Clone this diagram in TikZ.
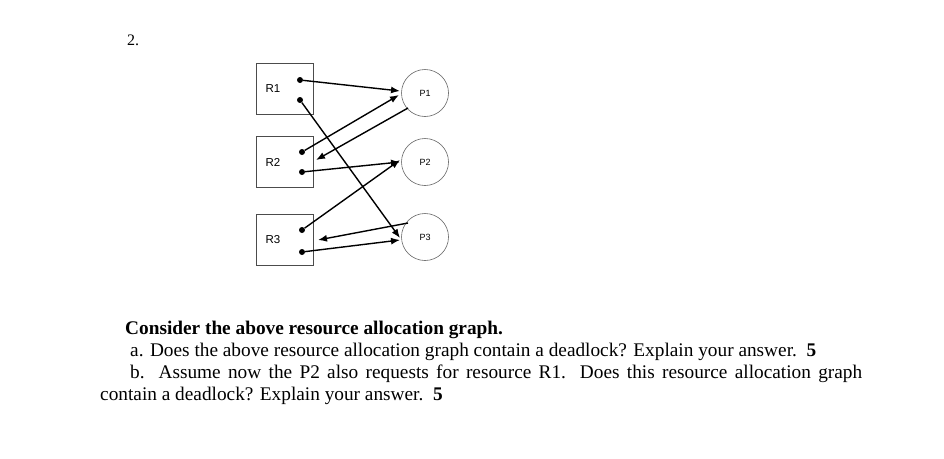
\documentclass[tikz,border=0pt]{standalone}
\usepackage{fontspec}
\setmainfont{Liberation Serif}
\newfontfamily\lab{Liberation Sans}
\usetikzlibrary{arrows.meta}
\begin{document}
\begin{tikzpicture}[x=1pt,y=-1pt,
  res/.style={draw=black!70,line width=0.8pt,minimum width=57pt,minimum height=51pt,inner sep=0pt},
  proc/.style={circle,draw=black!60,line width=0.6pt,minimum size=47pt,inner sep=0pt,font=\lab\fontsize{9}{10}\selectfont},
  dot/.style={circle,fill=black,inner sep=0pt,minimum size=6pt},
  edge/.style={line width=1.4pt,-{Latex[length=9pt,width=7pt]}},
  txt/.style={anchor=base west,inner sep=0pt,font=\fontsize{19.3}{22}\selectfont}]
\useasboundingbox (0,0) rectangle (944,458);
\node at (133,40) [font=\fontsize{16}{18}\selectfont] (n2) {2.};
\node[res] (R1) at (284.5,88.5) {};
\node[res] (R2) at (284.5,162) {};
\node[res] (R3) at (284.5,239.5) {};
\node[font=\lab\fontsize{11.5}{12}\selectfont] (l1) at (273,89) {R1};
\node[font=\lab\fontsize{11.5}{12}\selectfont] (l2) at (273,162) {R2};
\node[font=\lab\fontsize{11.5}{12}\selectfont] (l3) at (273,240) {R3};
\node[proc] (P1) at (425,93) {P1};
\node[proc] (P2) at (425,162) {P2};
\node[proc] (P3) at (425,237) {P3};
\node[dot] (a1) at (300,80) {};
\node[dot] (a2) at (300,100) {};
\node[dot] (b1) at (302,152) {};
\node[dot] (b2) at (302,172) {};
\node[dot] (c1) at (302,230) {};
\node[dot] (c2) at (302,252) {};
\coordinate (p1a) at (400,91);
\coordinate (p1b) at (399,95);
\coordinate (p1o) at (408,108);
\coordinate (r2i) at (316,160);
\coordinate (p2a) at (400,162);
\coordinate (p2b) at (400,160);
\coordinate (p3a) at (400,238);
\coordinate (p3b) at (400,240);
\coordinate (p3o) at (408,223);
\coordinate (r3i) at (318,240);
\draw[edge] (a1) -- (p1a);
\draw[edge] (a2) -- (p3a);
\draw[edge] (b1) -- (p1b);
\draw[edge] (p1o) -- (r2i);
\draw[edge] (b2) -- (p2a);
\draw[edge] (c1) -- (p2b);
\draw[edge] (p3o) -- (r3i);
\draw[edge] (c2) -- (p3b);
\node[txt] (t0) at (125,334) {\bfseries Consider the above resource allocation graph.};
\node[txt] (t1) at (130,356) {a. Does the above resource allocation graph contain a deadlock? Explain your answer.\ \ \textbf{5}};
\node[anchor=base west,inner sep=0pt,text width=762pt,align=justify,font=\fontsize{19.3}{22}\selectfont] (t2) at (100,378) {\hspace*{30pt}b. Assume now the P2 also requests for resource R1. Does this resource allocation graph\linebreak contain a deadlock? Explain your answer.\ \ \textbf{5}};
\end{tikzpicture}
\end{document}
